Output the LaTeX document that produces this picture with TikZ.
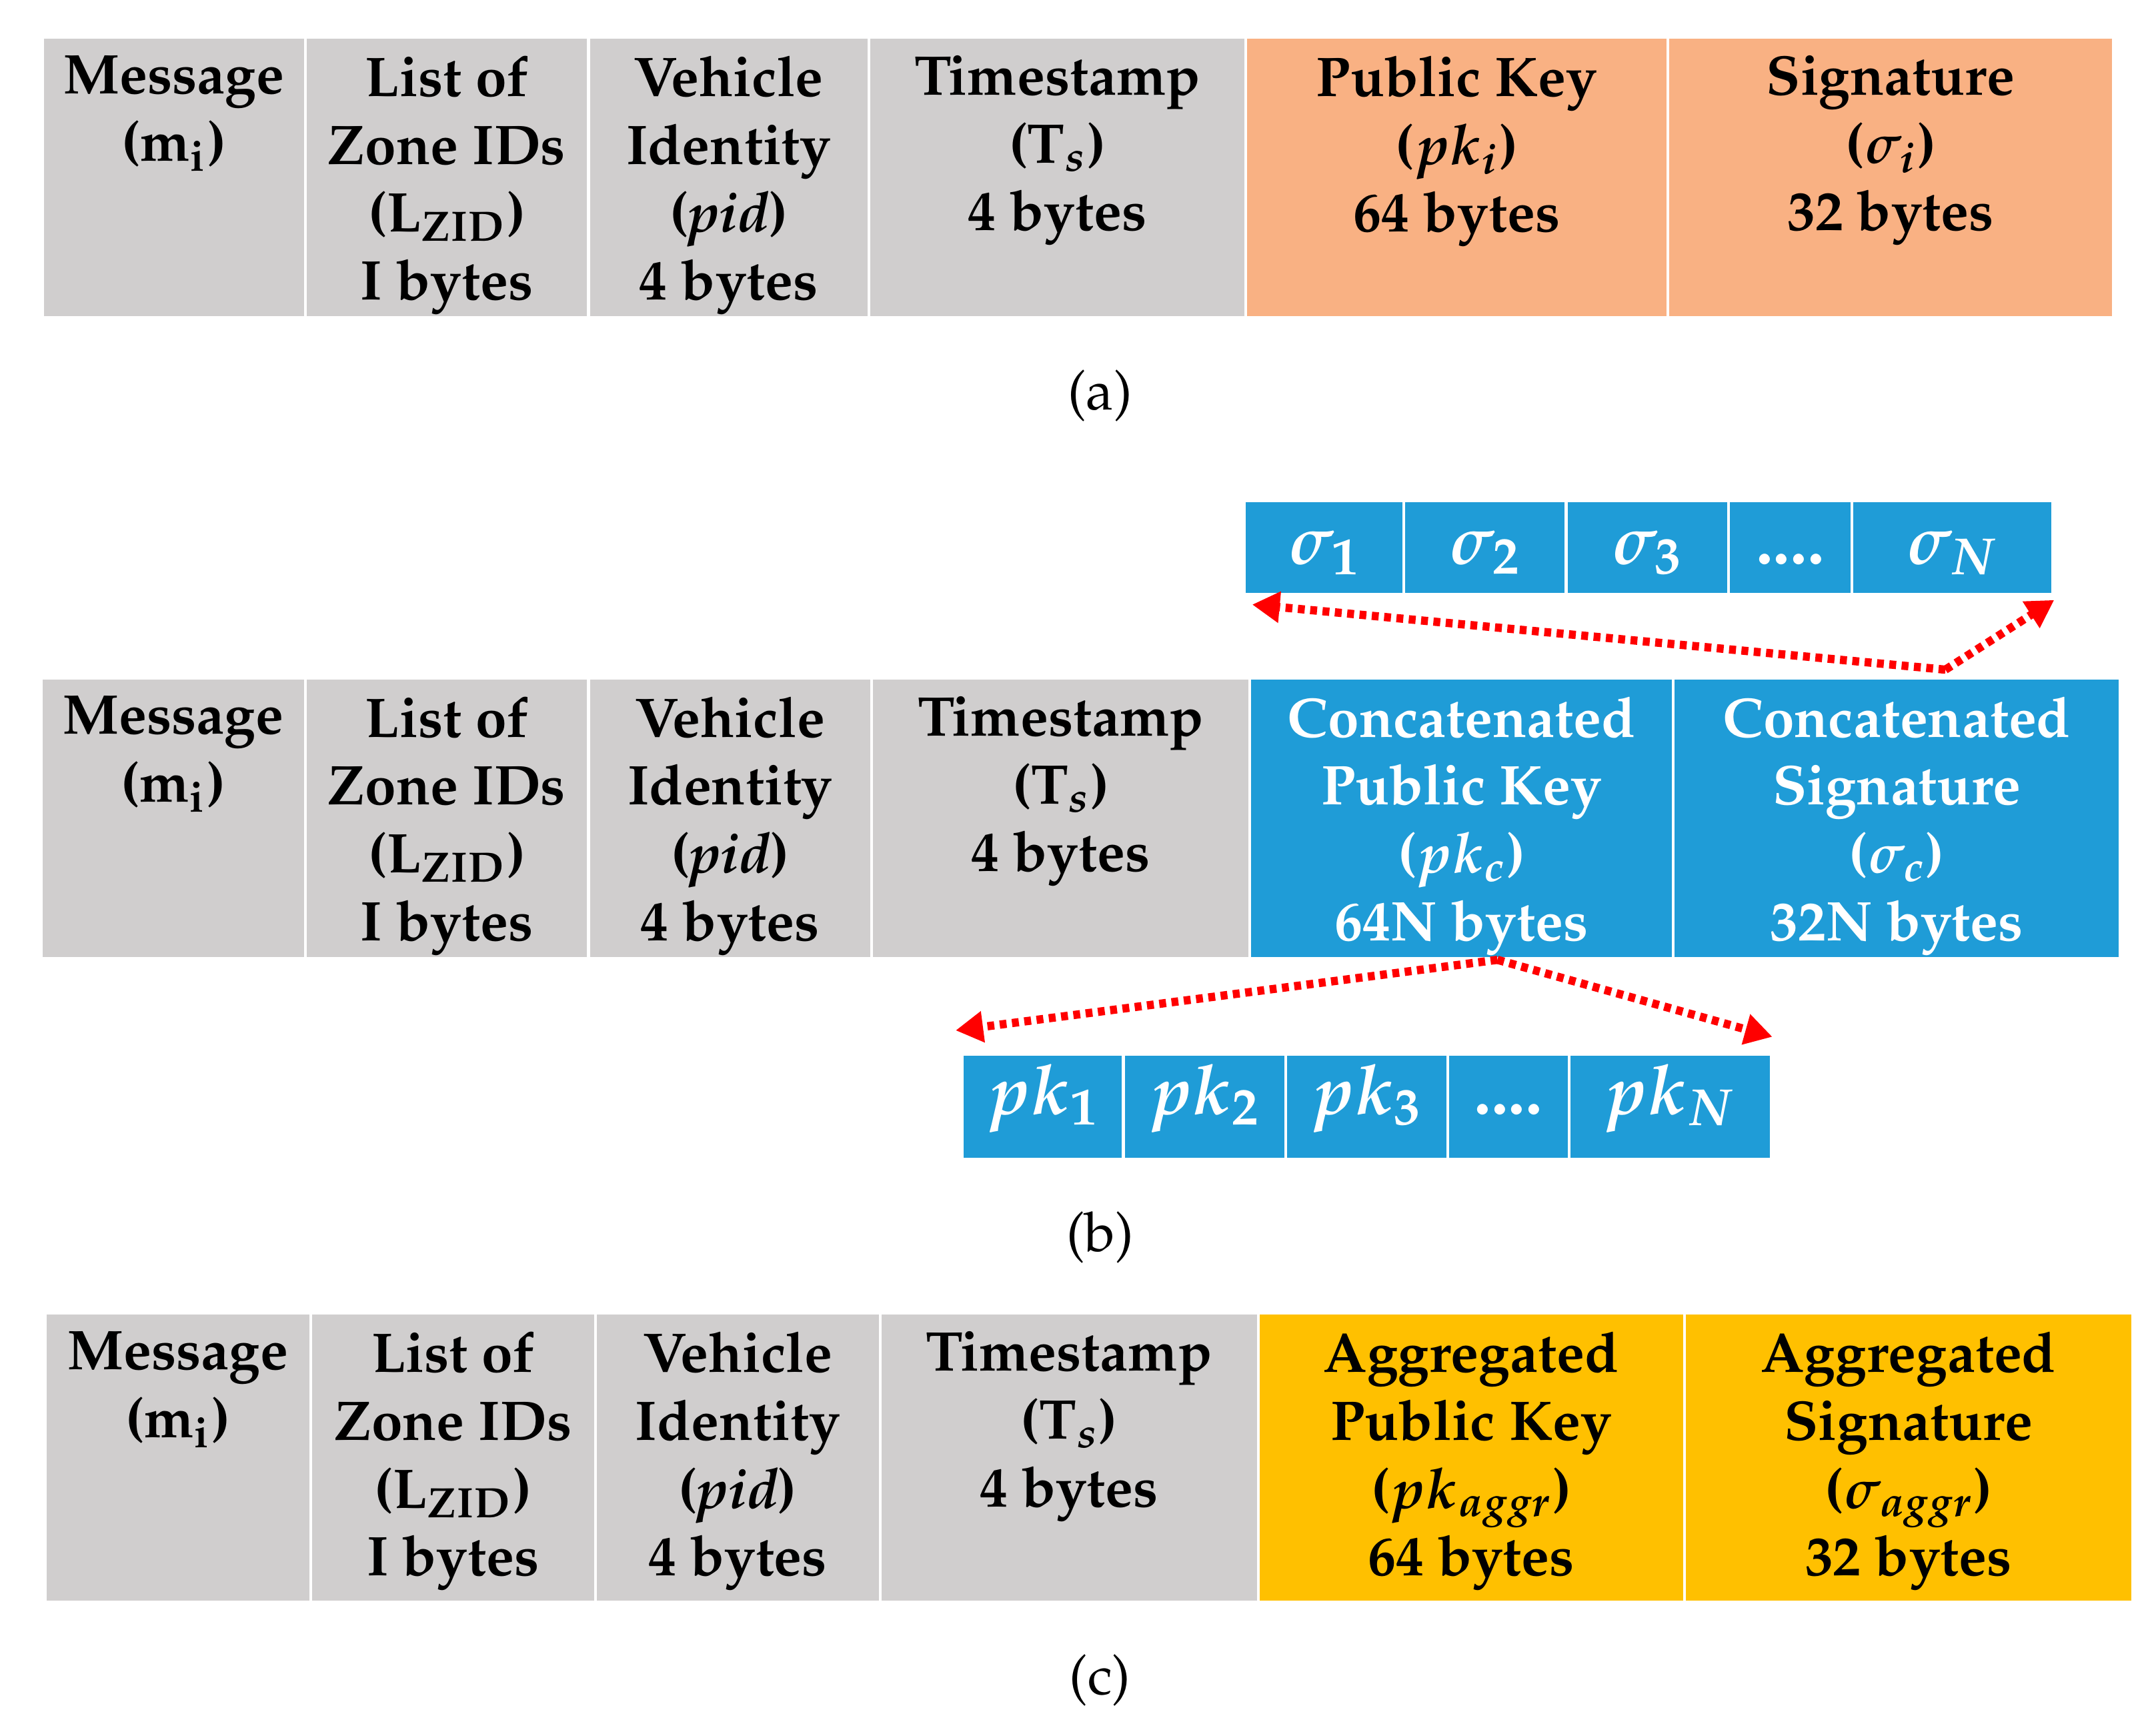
\documentclass[tikz,border=0pt]{standalone}
\usepackage[T1]{fontenc}
\usepackage{mathpazo}
\usetikzlibrary{arrows.meta,fit}

\definecolor{fieldgray}{HTML}{D0CECE}
\definecolor{sigorange}{HTML}{F9B183}
\definecolor{concatblue}{HTML}{1F9CD7}
\definecolor{aggryellow}{HTML}{FFC000}
\definecolor{splitred}{HTML}{FF0000}

\tikzset{
  field/.style={rectangle, draw=white, line width=0.6pt, inner sep=0pt},
  fieldtext/.style={anchor=north, align=center, inner sep=0pt,
    font=\fontsize{12.2}{14.8}\selectfont\bfseries\boldmath},
  parttext/.style={anchor=base, inner sep=0pt, text=white,
    font=\fontsize{15}{17}\selectfont\bfseries\boldmath},
  captiontext/.style={font=\fontsize{12}{14}\selectfont},
  splitarrow/.style={splitred, line width=1.8pt, dash pattern=on 1.5pt off 1.2pt,
    -{Triangle[length=6pt,width=6.5pt]}},
}

\begin{document}
\begin{tikzpicture}[x=0.3pt, y=-0.3pt]
  \useasboundingbox (0,0) rectangle (1568,1249);

  % === (a) single signature ===
  \node[field, fill=fieldgray, fit={(31,27) (222,231)}] (a1) {};
  \node[field, fill=fieldgray, fit={(222,27) (428,231)}] (a2) {};
  \node[field, fill=fieldgray, fit={(428,27) (632,231)}] (a3) {};
  \node[field, fill=fieldgray, fit={(632,27) (906,231)}] (a4) {};
  \node[field, fill=sigorange, fit={(906,27) (1213,231)}] (a5) {};
  \node[field, fill=sigorange, fit={(1213,27) (1537,231)}] (a6) {};

  \node[fieldtext] (a1t) at ([yshift=-4.2pt]a1.north) {Message\\(m$_{\mathbf{i}}$)};
  \node[fieldtext] (a2t) at ([yshift=-4.2pt]a2.north) {List of\\Zone IDs\\(L$_{\mathbf{ZID}}$)\\I bytes};
  \node[fieldtext] (a3t) at ([yshift=-4.2pt]a3.north) {Vehicle\\Identity\\(\textit{pid})\\4 bytes};
  \node[fieldtext] (a4t) at ([yshift=-4.2pt]a4.north) {Timestamp\\(T$_s$)\\4 bytes};
  \node[fieldtext] (a5t) at ([yshift=-4.2pt]a5.north) {Public Key\\($pk_i$)\\64 bytes};
  \node[fieldtext] (a6t) at ([yshift=-4.2pt]a6.north) {Signature\\($\sigma_i$)\\32 bytes};

  \node[captiontext] (capa) at (800,288) {(a)};

  % === (b) concatenated ===
  \foreach \name/\xa/\xb/\lbl in {s1/905/1021/{$\sigma_1$}, s2/1021/1139/{$\sigma_2$},
      s3/1139/1257/{$\sigma_3$}, sdots/1257/1347/{....}, sN/1347/1493/{$\sigma_N$}} {
    \node[field, fill=concatblue, fit={(\xa,364) (\xb,432)}] (\name) {};
    \node[parttext] (\name t) at ([yshift=-3.6pt]\name.center) {\lbl};
  }

  \node[field, fill=fieldgray, fit={(30,493) (222,697)}] (b1) {};
  \node[field, fill=fieldgray, fit={(222,493) (428,697)}] (b2) {};
  \node[field, fill=fieldgray, fit={(428,493) (634,697)}] (b3) {};
  \node[field, fill=fieldgray, fit={(634,493) (909,697)}] (b4) {};
  \node[field, fill=concatblue, fit={(909,493) (1217,697)}] (b5) {};
  \node[field, fill=concatblue, fit={(1217,493) (1542,697)}] (b6) {};

  \node[fieldtext] (b1t) at ([yshift=-4.2pt]b1.north) {Message\\(m$_{\mathbf{i}}$)};
  \node[fieldtext] (b2t) at ([yshift=-4.2pt]b2.north) {List of\\Zone IDs\\(L$_{\mathbf{ZID}}$)\\I bytes};
  \node[fieldtext] (b3t) at ([yshift=-4.2pt]b3.north) {Vehicle\\Identity\\(\textit{pid})\\4 bytes};
  \node[fieldtext] (b4t) at ([yshift=-4.2pt]b4.north) {Timestamp\\(T$_s$)\\4 bytes};
  \node[fieldtext, text=white] (b5t) at ([yshift=-4.2pt]b5.north) {Concatenated\\Public Key\\($pk_c$)\\64N bytes};
  \node[fieldtext, text=white] (b6t) at ([yshift=-4.2pt]b6.north) {Concatenated\\Signature\\($\sigma_c$)\\32N bytes};

  \foreach \name/\xa/\xb/\lbl in {p1/700/817/{$pk_1$}, p2/817/935/{$pk_2$},
      p3/935/1053/{$pk_3$}, pdots/1053/1141/{....}, pN/1141/1288/{$pk_N$}} {
    \node[field, fill=concatblue, fit={(\xa,767) (\xb,843)}] (\name) {};
    \node[parttext] (\name t) at ([yshift=-1.6pt]\name.center) {\lbl};
  }

  % split arrows
  \coordinate (sigsplit) at ([xshift=10.6pt, yshift=1.5pt]b6.north);
  \coordinate (pksplit) at ([xshift=7.8pt]b5.south);
  \draw[splitarrow] (sigsplit) -- ([xshift=2pt, yshift=-2pt]s1.south west);
  \draw[splitarrow] (sigsplit) -- ([yshift=-1pt]sN.south east);
  \draw[splitarrow] (pksplit) -- ([xshift=-1.2pt, yshift=5pt]p1.north west);
  \draw[splitarrow] (pksplit) -- ([yshift=3.6pt]pN.north east);

  \node[captiontext] (capb) at (800,900) {(b)};

  % === (c) aggregated ===
  \node[field, fill=fieldgray, fit={(33,955) (226,1165)}] (c1) {};
  \node[field, fill=fieldgray, fit={(226,955) (433,1165)}] (c2) {};
  \node[field, fill=fieldgray, fit={(433,955) (640,1165)}] (c3) {};
  \node[field, fill=fieldgray, fit={(640,955) (915,1165)}] (c4) {};
  \node[field, fill=aggryellow, fit={(915,955) (1225,1165)}] (c5) {};
  \node[field, fill=aggryellow, fit={(1225,955) (1551,1165)}] (c6) {};

  \node[fieldtext] (c1t) at ([yshift=-4.2pt]c1.north) {Message\\(m$_{\mathbf{i}}$)};
  \node[fieldtext] (c2t) at ([yshift=-4.2pt]c2.north) {List of\\Zone IDs\\(L$_{\mathbf{ZID}}$)\\I bytes};
  \node[fieldtext] (c3t) at ([yshift=-4.2pt]c3.north) {Vehicle\\Identity\\(\textit{pid})\\4 bytes};
  \node[fieldtext] (c4t) at ([yshift=-4.2pt]c4.north) {Timestamp\\(T$_s$)\\4 bytes};
  \node[fieldtext] (c5t) at ([yshift=-4.2pt]c5.north) {Aggregated\\Public Key\\($pk_{aggr}$)\\64 bytes};
  \node[fieldtext] (c6t) at ([yshift=-4.2pt]c6.north) {Aggregated\\Signature\\($\sigma_{aggr}$)\\32 bytes};

  \node[captiontext] (capc) at (800,1222) {(c)};
\end{tikzpicture}
\end{document}
